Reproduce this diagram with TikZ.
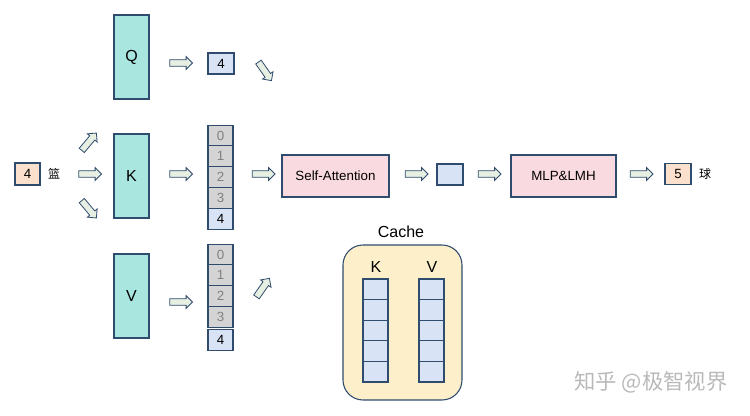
\documentclass[tikz,border=0pt]{standalone}
\usepackage{fontspec}
\setmainfont{Liberation Sans}
\newfontfamily\cjk{Noto Sans CJK SC}
\usetikzlibrary{shapes.arrows}
\definecolor{edge}{HTML}{2F4B6E}
\definecolor{teal}{HTML}{A9E6E0}
\definecolor{peach}{HTML}{FBE0CD}
\definecolor{cellb}{HTML}{D9E3F6}
\definecolor{cellg}{HTML}{D4D4D4}
\definecolor{pinkb}{HTML}{F9DAE0}
\definecolor{cachef}{HTML}{FDEFC9}
\definecolor{arrf}{HTML}{E6EFE2}
\begin{document}
\begin{tikzpicture}[x=0.75pt,y=-0.75pt,
  bx/.style={draw=edge,line width=0.8pt,inner sep=0pt,font=\fontsize{10}{12}\selectfont},
  tall/.style={bx,fill=teal,minimum width=26.25pt,minimum height=63pt,font=\fontsize{12}{14}\selectfont},
  cell/.style={bx,fill=cellb,minimum width=18.75pt,minimum height=15.6pt},
  gcell/.style={bx,fill=cellg,minimum width=18.75pt,minimum height=15.6pt,text=gray},
  ccell/.style={bx,fill=cellb,minimum width=18.75pt,minimum height=15.45pt},
  barr/.style={single arrow,draw=edge,fill=arrf,line width=0.6pt,minimum height=17pt,inner xsep=0pt,inner ysep=2.2pt,single arrow head extend=2.3pt,single arrow head indent=0pt},
  lbl/.style={inner sep=0pt,font=\fontsize{12}{14}\selectfont}]
\useasboundingbox (0,0) rectangle (750,416);
\node[bx,fill=peach,minimum width=18.75pt,minimum height=16.5pt] (in) at (27.5,174) {4};
\node[inner sep=0pt,font=\cjk\fontsize{9}{11}\selectfont] (lan) at (54,174) {篮};
\node[barr,rotate=50] (a1) at (88,143) {};
\node[barr] (a2) at (88.5,174) {};
\node[barr,rotate=-50] (a3) at (88,208) {};
\node[tall] (Q) at (131.5,57) {Q};
\node[tall] (K) at (131.5,176) {K};
\node[tall] (V) at (131.5,296) {V};
\node[barr] (aq) at (179.5,63) {};
\node[bx,fill=cellb,minimum width=19.5pt,minimum height=15.75pt] (q4) at (221,63.5) {4};
\node[barr,rotate=-55] (aq2) at (264,70) {};
\node[barr] (ak) at (179.5,174) {};
\node[barr] (av) at (179.5,302) {};
\foreach \i in {0,...,3}{
  \node[gcell] (k\i) at (220.5,{135.5+20.8*\i}) {\i};
  \node[gcell] (v\i) at (220.5,{254.5+20.8*\i}) {\i};}
\node[cell] (k4) at (220.5,218.7) {4};
\node[cell] (v4) at (220.5,339.7) {4};
\node[barr,rotate=55] (av2) at (262,289) {};
\node[barr] (as) at (262,174) {};
\node[bx,fill=pinkb,minimum width=80.25pt,minimum height=31.5pt] (sa) at (335.5,176) {Self-Attention};
\node[barr] (ao) at (415,174) {};
\node[bx,fill=cellb,minimum width=19.5pt,minimum height=15.75pt] (o) at (450,174.5) {};
\node[barr] (am) at (488,174) {};
\node[bx,fill=pinkb,minimum width=78.75pt,minimum height=31.5pt] (mlp) at (563.5,176) {MLP\&LMH};
\node[barr] (af) at (640,174) {};
\node[bx,fill=peach,minimum width=19.5pt,minimum height=15.75pt] (out) at (678,174) {5};
\node[inner sep=0pt,font=\cjk\fontsize{9}{11}\selectfont] (qiu) at (705,174) {球};
\node[lbl] (cl) at (401,232) {Cache};
\node[draw=edge,line width=0.8pt,fill=cachef,rounded corners=15pt,minimum width=89.25pt,minimum height=116.25pt] (cache) at (402.5,322.5) {};
\node[lbl] (ck) at (376,267) {K};
\node[lbl] (cv) at (432,267) {V};
\foreach \i in {0,...,4}{
  \node[ccell] (ck\i) at (375.5,{289.3+20.6*\i}) {};
  \node[ccell] (cv\i) at (431.5,{289.3+20.6*\i}) {};}
\node[inner sep=0pt,text=gray!55,font=\cjk\fontsize{16}{18}\selectfont] (wm) at (651,382) {知乎 @极智视界};
\end{tikzpicture}
\end{document}
